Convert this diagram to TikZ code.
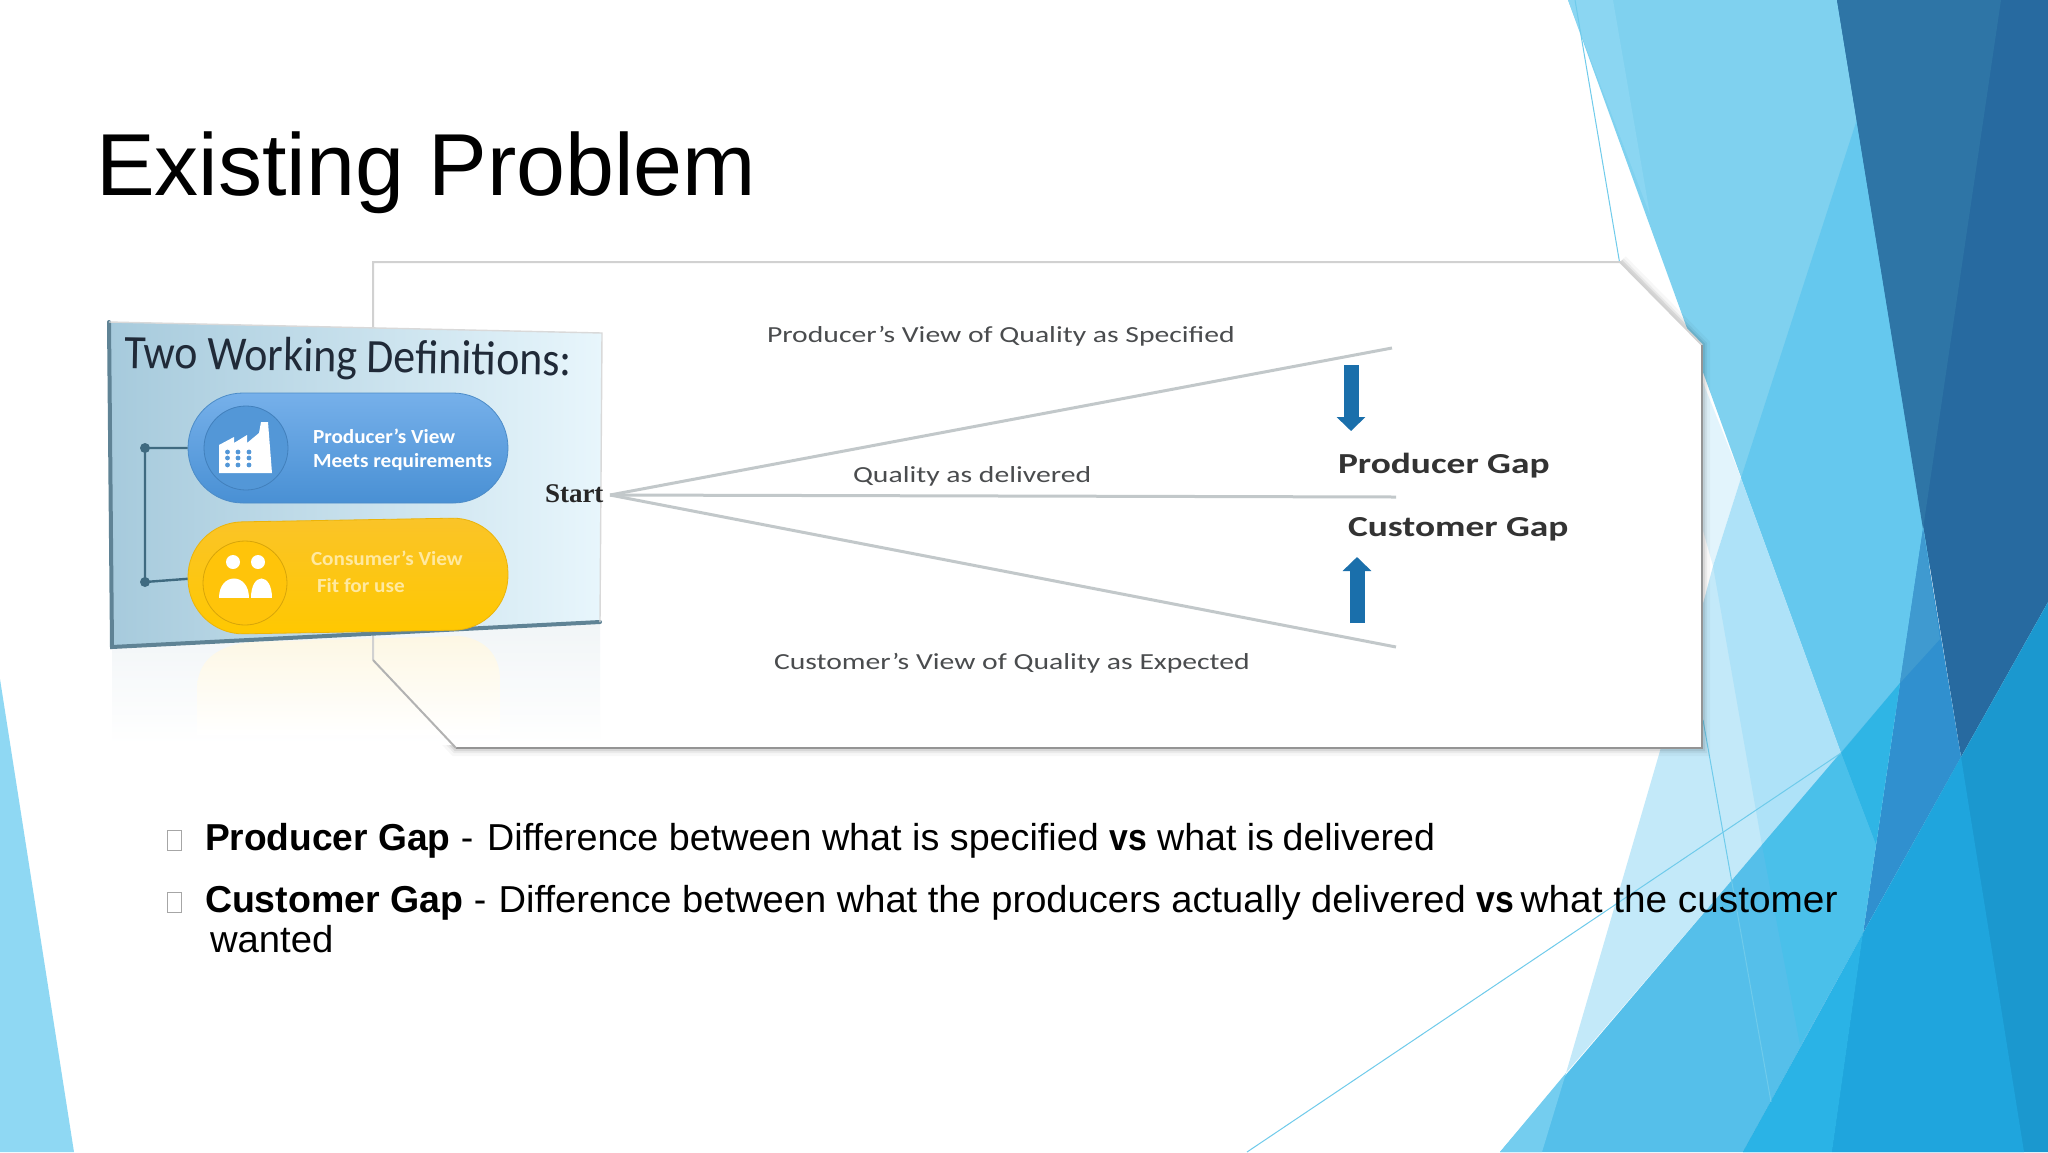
\documentclass[tikz,border=0pt]{standalone}
\usepackage{fontspec}
\setmainfont{Liberation Sans}
\newfontfamily\carl{Carlito}
\newfontfamily\tim{Liberation Serif}
\usetikzlibrary{arrows.meta}
\newcommand{\sx}[2]{\scalebox{#1}[1]{#2}}
\definecolor{txtgray}{HTML}{4A4C4E}
\definecolor{linegray}{HTML}{C2C8CA}
\definecolor{arrowblue}{HTML}{1A6FAB}
\definecolor{thinblue}{HTML}{6FCBEB}
\definecolor{brackc}{HTML}{3F6A80}
\definecolor{bluefill}{HTML}{5397D7}
\tikzset{
  tx/.style={anchor=base west,inner sep=0pt,outer sep=0pt},
  bul/.style={tx,text=black,font=\fontsize{18.75pt}{22pt}\selectfont},
  lab/.style={tx,text=txtgray,font=\carl\fontsize{11.5pt}{14pt}\selectfont},
  gaplab/.style={tx,text=black!80,font=\carl\bfseries\fontsize{14.5pt}{17pt}\selectfont},
  pilltx/.style={tx,font=\carl\bfseries\fontsize{10pt}{12pt}\selectfont},
  quality/.style={draw=linegray,line width=1.5pt},
  gaparrow/.style={draw=arrowblue,line width=7.5pt,-{Triangle[width=14pt,length=7pt]}},
  pill/.style={minimum width=160pt,minimum height=55pt,rounded corners=27.5pt,inner sep=0pt},
  thinline/.style={draw=thinblue,line width=.5pt},
  boxbul/.style={draw=black!35,line width=.5pt,minimum width=7pt,minimum height=10pt,inner sep=0pt},
  brack/.style={draw=brackc,line width=1.2pt}
}
\begin{document}
\begin{tikzpicture}[x=0.5pt,y=-0.5pt]
\useasboundingbox (0,0) rectangle (2048,1152);
\fill[white] (0,0) rectangle (2048,1152);
% ---- background facets
\definecolor{f1}{RGB}{127,209,239}\definecolor{f2}{RGB}{139,214,242}\definecolor{f3}{RGB}{101,200,238}
\definecolor{f4}{RGB}{226,244,252}\definecolor{f5}{RGB}{195,233,249}\definecolor{f6}{RGB}{174,226,248}
\definecolor{f7}{RGB}{46,117,166}\definecolor{f8}{RGB}{39,106,160}\definecolor{f9}{RGB}{63,154,208}
\definecolor{f10}{RGB}{48,144,207}\definecolor{f11}{RGB}{85,191,234}\definecolor{f12}{RGB}{116,205,239}
\definecolor{f13}{RGB}{47,181,229}\definecolor{f14}{RGB}{74,192,234}\definecolor{f15}{RGB}{27,152,207}
\definecolor{f16}{RGB}{31,165,221}\definecolor{f17}{RGB}{42,179,230}\definecolor{f18}{RGB}{143,216,243}
\fill[f1] (1568,0)--(1845,0)--(1930,529)--(1841,753)--cycle;
\fill[f2] (1568,0)--(1613,0)--(1650,215)--cycle;
\fill[f3] (1860,110)--(1741,478)--(1841,753)--(1855,765)--(1910,695)--(1935,529)--cycle;
\fill[f4] (1700,375)--(1741,478)--(1713,566)--(1700,520)--cycle;
\fill[f5] (1704,600)--(1713,566)--(1841,753)--(1566,1073)--cycle;
\fill[f6] (1741,478)--(1841,753)--(1762,845)--(1713,566)--cycle;
\fill[f8] (1837,0)--(2048,0)--(2048,602)--(1961,757)--cycle;
\fill[f7] (1837,0)--(2001,0)--(1923,529)--cycle;
\fill[f10] (1923,529)--(1961,757)--(1863,933)--(1900,683)--cycle;
\fill[f9] (1923,529)--(1940,639)--(1900,683)--cycle;
\fill[f11] (1900,683)--(1500,1152)--(1743,1152)--(1863,933)--cycle;
\fill[f12] (1500,1152)--(1566,1073)--(1542,1152)--cycle;
\fill[f13] (1900,683)--(1841,753)--(1876,845)--cycle;
\fill[f14] (1841,753)--(1876,845)--(1863,933)--(1800,1045)--(1762,845)--cycle;
\fill[f15] (2048,602)--(2048,1152)--(1743,1152)--(1961,757)--cycle;
\fill[f16] (1961,757)--(2024,1152)--(1832,1152)--(1863,933)--cycle;
\fill[f17] (1863,933)--(1832,1152)--(1743,1152)--cycle;
\fill[f18] (0,679)--(74,1152)--(0,1152)--cycle;
% ---- thin lines
\coordinate (ta) at (1575,0); \coordinate (tb) at (1620,265);
\coordinate (tc) at (1703,720); \coordinate (td) at (1771,1102);
\coordinate (te) at (1841,753); \coordinate (tf) at (1247,1152);
\draw[thinline] (ta)--(tb);
\draw[thinline] (tc)--(td);
\draw[thinline] (te)--(tf);
% ---- card
\coordinate (c1) at (373,262); \coordinate (c2) at (1620,262); \coordinate (c3) at (1702,345);
\coordinate (c4) at (1702,748); \coordinate (c5) at (456,748); \coordinate (c6) at (373,660);
\foreach \w/\o in {8/.03,5/.05,3/.08}{
  \draw[black,opacity=\o,line width=\w pt] (c2)--(c3)--(c4)--(c5)--(c6);
}
\fill[white] (c1)--(c2)--(c3)--(c4)--(c5)--(c6)--cycle;
% ---- reflection
\definecolor{refl}{HTML}{F1F5F7}\definecolor{refy}{HTML}{FDF7E4}
\shade[top color=refl,bottom color=white] (112,647)--(600,622)--(600,745)--(112,745)--cycle;
\shade[top color=refy,bottom color=white] (197,735)--(197,690) .. controls (197,655) and (225,645) .. (250,642) -- (460,636) .. controls (490,640) and (500,660) .. (500,680) -- (500,735)--cycle;
% ---- card outline
\draw[black!18,line width=1pt] (c6)--(c1)--(c2)--(c3);
\draw[black!42,line width=1.2pt] (c3)--(c4)--(c5);
\draw[black!30,line width=1pt] (c5)--(c6);
% ---- panel
\definecolor{pl}{RGB}{166,202,220}\definecolor{pr}{RGB}{232,246,252}\definecolor{pf}{HTML}{5F8395}
\coordinate (p1) at (109,322); \coordinate (p2) at (602,333); \coordinate (p3) at (600,622); \coordinate (p4) at (112,647);
\shade[left color=pl,right color=pr] (p1)--(p2)--(p3)--(p4)--cycle;
\draw[pf,line width=2pt,line cap=round] (p1)--(p4)--(p3);
\draw[black!15,line width=.7pt] (p1)--(p2)--(p3);
\definecolor{ttxt}{RGB}{32,42,56}
\node[tx,text=ttxt,rotate=-1,font=\carl\fontsize{24pt}{28pt}\selectfont] (title2) at (124,368) {\sx{.915}{Two Working Definitions:}};
% pills
\definecolor{bt}{RGB}{118,176,234}\definecolor{bb}{RGB}{73,144,212}\definecolor{bd}{RGB}{76,140,200}
\definecolor{yt}{RGB}{250,196,40}\definecolor{yb}{RGB}{255,200,0}\definecolor{yd}{RGB}{235,180,10}
\definecolor{ycf}{RGB}{255,196,10}\definecolor{ycd}{RGB}{215,165,10}\definecolor{bcd}{RGB}{66,128,188}
\definecolor{palet}{RGB}{255,233,160}
\node[pill,top color=bt,bottom color=bb,draw=bd] (bluepill) at (348,448) {};
\node[pill,rotate=1,top color=yt,bottom color=yb,draw=yd,minimum height=56pt] (yelpill) at (348,576) {};
\coordinate (bu) at (145,448); \coordinate (by) at (145,582);
\draw[brack] (bluepill.west)--(bu)--(by)--(yelpill.west);
\fill[brackc] (bu) circle[radius=5]; \fill[brackc] (by) circle[radius=5];
\node[circle,minimum size=42pt,inner sep=0pt,fill=bluefill,draw=bcd] (bluecircle) at (246,448) {};
\node[circle,minimum size=42pt,inner sep=0pt,fill=ycf,draw=ycd] (yelcircle) at (245,583) {};
% factory
\fill[white] (219,473)--(219,445)--(234,437)--(234,443)--(247,435)--(247,443)--(259,433)--(261,422)--(268,422)--(272,473)--cycle;
\foreach \x in {227.5,238,249}\foreach \y in {452,458,465}{\fill[bluefill] (\x,\y) circle[radius=2.4];}
% people
\fill[white] (233,562) circle[radius=7]; \fill[white] (258,562) circle[radius=7];
\fill[white] (219,598) .. controls (219,572) and (249,572) .. (249,598) --cycle;
\fill[white] (251,598) .. controls (251,572) and (272,572) .. (272,598) --cycle;
% pill text
\node[pilltx,text=white] (pv1) at (313,443) {\sx{1.06}{Producer’s View}};
\node[pilltx,text=white] (pv2) at (313,467) {\sx{1.06}{Meets requirements}};
\node[pilltx,text=palet] (cv1) at (311,565) {\sx{1.06}{Consumer’s View}};
\node[pilltx,text=palet] (cv2) at (317,592) {\sx{1.06}{Fit for use}};
\node[tx,text=black!85,font=\tim\bfseries\fontsize{13.5pt}{16pt}\selectfont] (start) at (545,502) {Start};
% ---- quality lines
\coordinate (apex) at (610,495); \coordinate (qu) at (1392,348); \coordinate (qm) at (1396,497); \coordinate (ql) at (1396,647);
\draw[quality] (apex)--(qu); \draw[quality] (apex)--(qm); \draw[quality] (apex)--(ql);
\node[lab] (l1) at (767,342) {\sx{1.29}{Producer’s View of Quality as Specified}};
\node[lab] (l2) at (853,482) {\sx{1.29}{Quality as delivered}};
\node[lab] (l3) at (774,669) {\sx{1.29}{Customer’s View of Quality as Expected}};
\node[gaplab] (g1) at (1338,473) {\sx{1.29}{Producer Gap}};
\node[gaplab] (g2) at (1348,536) {\sx{1.29}{Customer Gap}};
\coordinate (a1s) at (1351,365); \coordinate (a1e) at (1351,431);
\coordinate (a2s) at (1357,623); \coordinate (a2e) at (1357,557);
\draw[gaparrow] (a1s)--(a1e);
\draw[gaparrow] (a2s)--(a2e);
% ---- title and bullets
\node[tx,text=black,font=\fontsize{44pt}{50pt}\selectfont] (heading) at (96,195) {Existing Problem};
\node[boxbul] (b1) at (174,840) {};
\node[boxbul] (b2) at (174,902) {};
\node[bul] (t1) at (205,850) {\sx{.99}{\textbf{Producer Gap}} - \hspace{1.7pt}\sx{1.006}{Difference between what is specified} \sx{.9}{\textbf{vs}} what is\hspace{-.8pt} delivered};
\node[bul] (t2) at (205,912) {\textbf{Customer Gap} - \hspace{1pt}\sx{1.016}{Difference between what the producers actually delivered} \sx{.9}{\textbf{vs}}\hspace{-1.8pt} \sx{1.034}{what the customer}};
\node[bul] (t3) at (210,952) {\sx{1.02}{wanted}};
\end{tikzpicture}
\end{document}
